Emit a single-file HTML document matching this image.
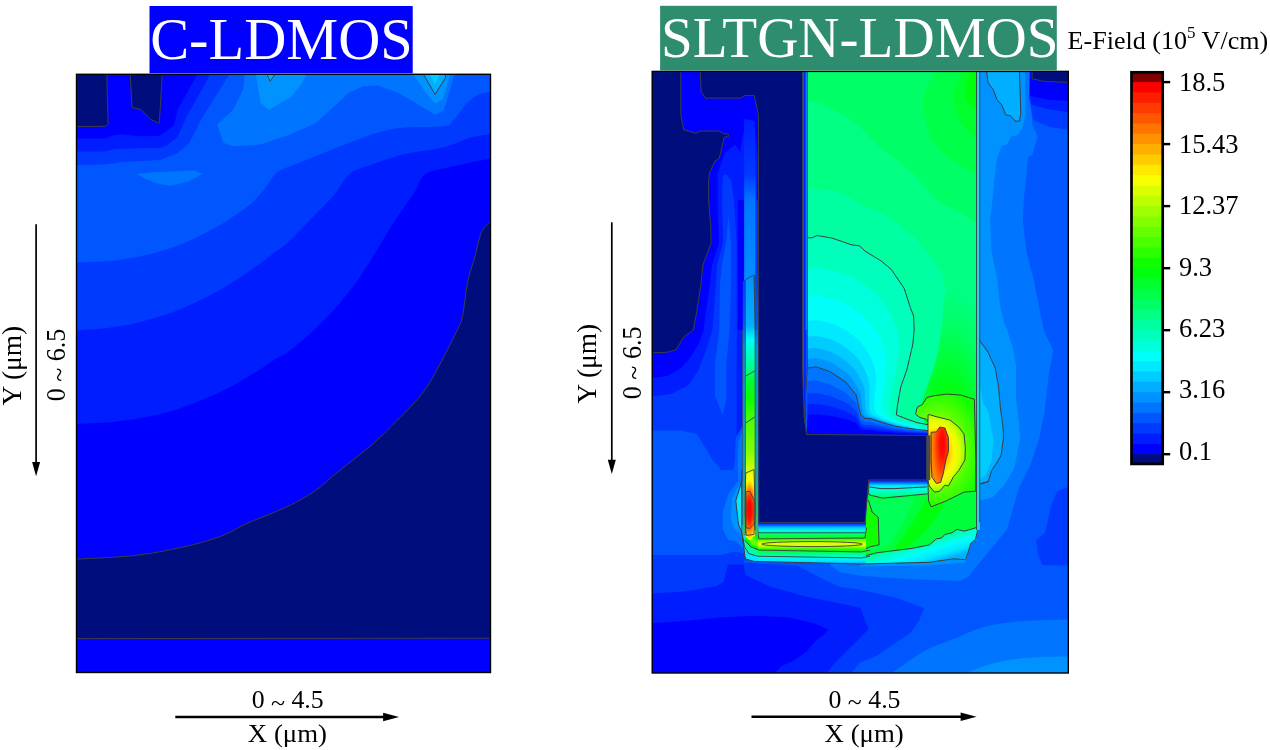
<!DOCTYPE html>
<html lang="en">
<head>
<meta charset="utf-8">
<title>E-Field distribution: C-LDMOS vs SLTGN-LDMOS</title>
<style>
html,body{margin:0;padding:0;background:#fff;}
body{width:1270px;height:750px;overflow:hidden;font-family:"Liberation Serif","Times New Roman",serif;}
svg{display:block;}
</style>
</head>
<body>
<svg width="1270" height="750" viewBox="0 0 1270 750" font-family="'Liberation Serif', 'Times New Roman', serif">
<defs>
<clipPath id="clipL"><rect x="76.5" y="74.3" width="414" height="598.2"/></clipPath>
<clipPath id="clipR"><rect x="652.2" y="71.4" width="416.1" height="601.6"/></clipPath>
<clipPath id="clipG"><path d="M806.8 69.4 L976.5 69.4 L976.5 523 L979.6 522.4 L975.3 539.7 L970.9 543.2 L965.7 559.7 L953.6 558.8 L929.3 562.3 L860 564 L866 522.4 L868.7 479.9 L926.7 479.9 L926.7 435.4 L806.8 434.5Z"/></clipPath>
<radialGradient id="halo" gradientUnits="userSpaceOnUse" cx="0" cy="0" r="1" gradientTransform="translate(948 440) scale(62 150)"><stop offset="0.000" stop-color="rgb(44,255,0)"/><stop offset="0.200" stop-color="rgb(15,255,0)"/><stop offset="0.340" stop-color="rgb(0,255,15)"/><stop offset="0.480" stop-color="rgb(0,255,44)"/><stop offset="0.620" stop-color="rgb(0,255,73)"/><stop offset="0.780" stop-color="rgb(0,255,102)"/><stop offset="1.000" stop-color="rgb(0,255,131)"/></radialGradient>
<linearGradient id="gUA" gradientUnits="userSpaceOnUse" x1="0" y1="479.9" x2="0" y2="499"><stop offset="0.000" stop-color="rgb(0,0,255)"/><stop offset="0.120" stop-color="rgb(0,87,255)"/><stop offset="0.300" stop-color="rgb(0,233,255)"/><stop offset="0.500" stop-color="rgb(0,255,219)"/><stop offset="0.750" stop-color="rgb(0,255,160)"/><stop offset="1.000" stop-color="rgb(0,255,73)"/></linearGradient>
<linearGradient id="gLB" gradientUnits="userSpaceOnUse" x1="930" y1="535" x2="938" y2="562"><stop offset="0.000" stop-color="rgb(0,255,131)"/><stop offset="0.250" stop-color="rgb(0,255,189)"/><stop offset="0.500" stop-color="rgb(0,255,248)"/><stop offset="0.750" stop-color="rgb(0,233,255)"/><stop offset="1.000" stop-color="rgb(0,175,255)"/></linearGradient>
<radialGradient id="hs3" gradientUnits="userSpaceOnUse" cx="0" cy="0" r="1" gradientTransform="translate(938 450) scale(46 64)"><stop offset="0.000" stop-color="rgb(189,255,0)"/><stop offset="0.450" stop-color="rgb(131,255,0)"/><stop offset="0.700" stop-color="rgb(73,255,0)"/><stop offset="1.000" stop-color="rgb(15,255,0)"/></radialGradient>
<radialGradient id="hs4" gradientUnits="userSpaceOnUse" cx="0" cy="0" r="1" gradientTransform="translate(936 452) scale(30 42)"><stop offset="0.000" stop-color="rgb(255,117,0)"/><stop offset="0.300" stop-color="rgb(255,146,0)"/><stop offset="0.450" stop-color="rgb(255,204,0)"/><stop offset="0.600" stop-color="rgb(255,248,0)"/><stop offset="0.780" stop-color="rgb(219,255,0)"/><stop offset="1.000" stop-color="rgb(131,255,0)"/></radialGradient>
<radialGradient id="hs5" gradientUnits="userSpaceOnUse" cx="0" cy="0" r="1" gradientTransform="translate(942.3 445) scale(10 42)"><stop offset="0.000" stop-color="rgb(255,0,0)"/><stop offset="0.250" stop-color="rgb(255,12,0)"/><stop offset="0.550" stop-color="rgb(255,58,0)"/><stop offset="0.800" stop-color="rgb(255,102,0)"/><stop offset="1.000" stop-color="rgb(255,131,0)"/></radialGradient>
<linearGradient id="gBS" gradientUnits="userSpaceOnUse" x1="0" y1="522.4" x2="0" y2="564"><stop offset="0.000" stop-color="rgb(0,0,255)"/><stop offset="0.060" stop-color="rgb(0,87,255)"/><stop offset="0.130" stop-color="rgb(0,204,255)"/><stop offset="0.200" stop-color="rgb(0,255,219)"/><stop offset="0.280" stop-color="rgb(0,255,131)"/><stop offset="0.380" stop-color="rgb(15,255,0)"/><stop offset="0.460" stop-color="rgb(160,255,0)"/><stop offset="0.520" stop-color="rgb(248,255,0)"/><stop offset="0.580" stop-color="rgb(160,255,0)"/><stop offset="0.660" stop-color="rgb(15,255,0)"/><stop offset="0.750" stop-color="rgb(0,255,131)"/><stop offset="0.830" stop-color="rgb(0,255,219)"/><stop offset="0.920" stop-color="rgb(0,233,255)"/><stop offset="1.000" stop-color="rgb(0,175,255)"/></linearGradient>
<linearGradient id="gSL" gradientUnits="userSpaceOnUse" x1="0" y1="115" x2="0" y2="562"><stop offset="0.000" stop-color="rgb(0,29,255)"/><stop offset="0.134" stop-color="rgb(0,58,255)"/><stop offset="0.190" stop-color="rgb(0,117,255)"/><stop offset="0.358" stop-color="rgb(0,146,255)"/><stop offset="0.470" stop-color="rgb(0,175,255)"/><stop offset="0.503" stop-color="rgb(0,255,248)"/><stop offset="0.539" stop-color="rgb(0,255,189)"/><stop offset="0.570" stop-color="rgb(0,255,131)"/><stop offset="0.597" stop-color="rgb(0,255,44)"/><stop offset="0.635" stop-color="rgb(15,255,0)"/><stop offset="0.682" stop-color="rgb(73,255,0)"/><stop offset="0.752" stop-color="rgb(131,255,0)"/><stop offset="0.785" stop-color="rgb(189,255,0)"/><stop offset="0.808" stop-color="rgb(248,255,0)"/><stop offset="0.951" stop-color="rgb(248,255,0)"/><stop offset="0.960" stop-color="rgb(15,255,0)"/><stop offset="0.971" stop-color="rgb(0,255,131)"/><stop offset="0.984" stop-color="rgb(0,255,248)"/><stop offset="0.996" stop-color="rgb(0,175,255)"/></linearGradient>
<linearGradient id="gSLu" gradientUnits="userSpaceOnUse" x1="0" y1="115" x2="0" y2="285"><stop offset="0.000" stop-color="rgb(0,29,255)"/><stop offset="0.350" stop-color="rgb(0,58,255)"/><stop offset="0.500" stop-color="rgb(0,117,255)"/><stop offset="1.000" stop-color="rgb(0,146,255)"/></linearGradient>
<linearGradient id="gRim" gradientUnits="userSpaceOnUse" x1="0" y1="275" x2="0" y2="562"><stop offset="0.000" stop-color="rgb(0,60,235)"/><stop offset="0.170" stop-color="rgb(0,90,235)"/><stop offset="0.250" stop-color="rgb(0,150,200)"/><stop offset="0.700" stop-color="rgb(20,170,170)"/><stop offset="0.900" stop-color="rgb(60,190,90)"/><stop offset="1.000" stop-color="rgb(0,150,200)"/></linearGradient>
<radialGradient id="rsL" gradientUnits="userSpaceOnUse" cx="0" cy="0" r="1" gradientTransform="translate(749.4 510) scale(7.5 30)"><stop offset="0.000" stop-color="rgb(255,0,0)"/><stop offset="0.300" stop-color="rgb(255,12,0)"/><stop offset="0.500" stop-color="rgb(255,58,0)"/><stop offset="0.720" stop-color="rgb(255,146,0)"/><stop offset="1.000" stop-color="rgb(248,255,0)"/></radialGradient>
<clipPath id="clipSl"><rect x="745.6" y="470" width="9.3" height="70"/></clipPath>
<linearGradient id="gS1" gradientUnits="userSpaceOnUse" x1="804.4" y1="0" x2="807.2" y2="0"><stop offset="0.000" stop-color="rgb(0,0,255)"/><stop offset="0.500" stop-color="rgb(0,87,255)"/><stop offset="1.000" stop-color="rgb(0,204,255)"/></linearGradient>
<linearGradient id="gS1b" gradientUnits="userSpaceOnUse" x1="804.4" y1="0" x2="807.2" y2="0"><stop offset="0.000" stop-color="rgb(0,0,255)"/><stop offset="1.000" stop-color="rgb(0,117,255)"/></linearGradient>
</defs>
<g clip-path="url(#clipL)">
<rect x="76.5" y="74.3" width="414" height="598.2" fill="rgb(0,0,255)" />
<path d="M74 424 C81.8 423.5 104.7 423.3 121 421.1 C137.3 418.9 155.6 415.7 172 410.9 C188.4 406.1 206 398.4 219.6 392.2 C233.2 386 244.4 378.9 253.5 373.5 C262.6 368.1 267.7 363.8 273.9 359.9 C280.1 355.9 282.4 356.6 290.9 349.8 C299.4 343 313.6 331.1 324.9 319.2 C336.2 307.3 347.6 294.3 358.9 278.4 C370.2 262.5 383.7 238.2 392.9 224 C402.1 209.8 408.6 201.3 414 193 C419.4 184.7 419.1 178.5 425.6 174 C432.2 169.5 442.1 168.9 453.3 166.2 C464.5 163.5 486.4 159.4 493 158 L492.5 72.3 L74.5 72.3Z" fill="rgb(0,29,255)"/>
<path d="M74 330.6 C81.8 329.8 104.7 329 121 326 C137.3 323 156.1 318.1 172 312.4 C187.9 306.7 202.6 299.4 216.2 292 C229.8 284.6 243.9 274.7 253.5 268.2 C263.1 261.7 268.2 257.1 273.9 252.9 C279.6 248.7 281.8 247.8 287.5 242.7 C293.2 237.6 300.1 230.2 307.9 222.3 C315.6 214.4 327.1 203.1 334 195 C340.9 186.9 343.3 178.9 349.3 174 C355.3 169.1 361.4 168.5 370.1 165.3 C378.8 162.1 388.9 157.9 401.3 154.9 C413.7 151.9 433.1 150 444.6 147.1 C456.2 144.2 462.5 139.8 470.6 137.6 C478.7 135.4 489.3 134.4 493 133.8 L492.5 72.3 L74.5 72.3Z" fill="rgb(0,58,255)"/>
<path d="M74 262.5 C81.8 262 104.7 262.1 121 259.7 C137.3 257.2 156.7 252.9 172 247.8 C187.3 242.7 200.3 235.9 212.8 229.1 C225.3 222.3 238.6 213.2 246.8 207 C255 200.8 257.4 197.3 262 192 C266.6 186.7 271.5 178.6 274.5 175 C277.5 171.4 274.8 173 280 170.5 C285.2 168 294.4 164.7 306 160.1 C317.6 155.5 336.3 147.7 349.3 142.8 C362.3 137.9 373.9 133.3 384 130.7 C394.1 128.1 399.9 127.9 410 127.2 C420.1 126.5 437.4 127.5 444.6 126.3 C451.8 125.1 449.5 124.2 453.3 120.3 C457.1 116.4 462.9 107.2 467.2 102.9 C471.5 98.6 475 96.2 479.3 94.3 C483.6 92.4 490.7 91.8 493 91.3 L492.5 72.3 L74.5 72.3Z" fill="rgb(0,87,255)"/>
<path d="M74 165 L104.7 164.5 L122 161.9 L160.1 160.1 L177.5 153.2 L189.6 142.8 L201.7 118.5 L229.4 74.3 L231 72 L74.5 72.3Z" fill="rgb(0,58,255)"/>
<path d="M74 151.5 L104.7 151.5 L115 148.9 L139.3 148.3 L160.1 148 L167 145.4 L177.5 136.7 L187.9 114.2 L210.4 74.3 L212 72 L74.5 72.3Z" fill="rgb(0,29,255)"/>
<path d="M74 138.5 L104.7 138.5 L115 135 L122 134.5 L139.3 136.2 L159.3 135.9 L174 125.5 L177.5 109.9 L197.4 74.3 L199 72 L74.5 72.3Z" fill="rgb(0,0,255)"/>
<path d="M74 72 L106.7 72 L108.1 123.7 L105.5 126.3 L74 126.7Z" fill="rgb(0,14,125)" stroke="#3c3c46" stroke-width="1" stroke-linejoin="round" />
<path d="M130.1 72 L132 107.3 L140.7 109.5 L150.6 119.4 L159.3 123.4 L162.4 72Z" fill="rgb(0,14,125)" stroke="#3c3c46" stroke-width="1" stroke-linejoin="round" />
<path d="M245 72 L243.3 89.1 L232.9 109.9 L217.3 124.6 L223.4 142.8 L232.9 146.3 L260.6 144.5 L278 138.5 L288.7 135 L314.7 123.7 L330.3 109.9 L349.3 92.5 L363.2 86.5 L377 85.6 L397.9 92.5 L418.6 104.7 L435.1 114.7 L443.8 110.7 L449 92.5 L455 72Z" fill="rgb(0,117,255)" />
<path d="M255.4 72 L260.6 102.9 L269.3 109.9 L280 102.9 L290.4 97.7 L299 87.3 L308.6 72Z" fill="rgb(0,146,255)" />
<path d="M265.9 72 L270.2 81.3 L276.3 72Z" fill="rgb(0,175,255)" stroke="#3c3c46" stroke-width="1" stroke-linejoin="round" />
<path d="M411.7 72 L425.6 92.5 L435.1 103.8 L442.9 99.5 L447.2 85.6 L450.7 72Z" fill="rgb(0,146,255)" />
<path d="M422.1 72 L435.1 94.3 L445.5 77.8 L445.5 72Z" fill="rgb(0,175,255)" stroke="#3c3c46" stroke-width="1" stroke-linejoin="round" />
<path d="M428.2 72 L435.1 83.9 L441.2 72Z" fill="rgb(0,204,255)" />
<path d="M136.7 174 L153.2 172.3 L194.8 170.5 L202.6 174 L187.9 181.8 L170.5 185.8 L156.7 183.5 L144.5 178.3Z" fill="rgb(0,117,255)" />
<path d="M493 222 C492.3 222.2 490.8 221.2 488.8 223 C486.9 224.8 483.7 226.7 481.3 232.5 C478.9 238.3 476.8 249.8 474.5 258 C472.2 266.2 469.7 272.2 467.7 281.8 C465.7 291.4 464.3 307.9 462.6 315.8 C460.9 323.7 460.6 322.6 457.5 329.4 C454.4 336.2 449 347 443.9 356.6 C438.8 366.2 432.6 378.6 426.9 387.1 C421.2 395.6 415.6 401.3 409.9 407.5 C404.2 413.7 396.6 420.8 392.9 424.5 C389.2 428.2 391.8 426.2 387.8 430 C383.8 433.8 377.9 439.6 369.1 447 C360.3 454.4 344.2 466.8 335.1 474.2 C326 481.6 322.6 485.8 314.7 491.2 C306.8 496.6 298.8 501.1 287.5 506.5 C276.2 511.9 257.6 518.7 246.8 523.5 C236.1 528.3 232.6 531.7 223 535.4 C213.4 539.1 203.2 542.3 189 545.6 C174.8 548.9 157.2 552.8 138 555.1 C118.8 557.4 84.7 558.6 74 559.3 L74 638.6 L493 638.2Z" fill="rgb(0,14,125)"/>
<path d="M493 222 C492.3 222.2 490.8 221.2 488.8 223 C486.9 224.8 483.7 226.7 481.3 232.5 C478.9 238.3 476.8 249.8 474.5 258 C472.2 266.2 469.7 272.2 467.7 281.8 C465.7 291.4 464.3 307.9 462.6 315.8 C460.9 323.7 460.6 322.6 457.5 329.4 C454.4 336.2 449 347 443.9 356.6 C438.8 366.2 432.6 378.6 426.9 387.1 C421.2 395.6 415.6 401.3 409.9 407.5 C404.2 413.7 396.6 420.8 392.9 424.5 C389.2 428.2 391.8 426.2 387.8 430 C383.8 433.8 377.9 439.6 369.1 447 C360.3 454.4 344.2 466.8 335.1 474.2 C326 481.6 322.6 485.8 314.7 491.2 C306.8 496.6 298.8 501.1 287.5 506.5 C276.2 511.9 257.6 518.7 246.8 523.5 C236.1 528.3 232.6 531.7 223 535.4 C213.4 539.1 203.2 542.3 189 545.6 C174.8 548.9 157.2 552.8 138 555.1 C118.8 557.4 84.7 558.6 74 559.3" fill="none" stroke="#3c3c46" stroke-width="1"/>
<path d="M74 638.6 L493 638.2" fill="none" stroke="#3c3c46" stroke-width="1" stroke-linejoin="round"/>
</g>
<rect x="76.5" y="74.3" width="414" height="598.2" fill="none" stroke="#000" stroke-width="1.4"/>
<g clip-path="url(#clipR)">
<rect x="652.2" y="71.4" width="416.1" height="601.6" fill="rgb(0,87,255)" />
<path d="M1030 69.4 L1029 96 L1031.6 111.6 L1032.4 125.5 L1037.6 135.9 L1032.4 154.9 L1028.1 156.7 L1026.4 174 L1023.8 200 L1022.9 220.8 L1026.4 252 L1033.3 278 L1038.5 304 L1043.7 330 L1053.2 350.8 L1048.9 373.3 L1045 409.3 L1039.2 438.7 L1030.4 465.1 L1018.7 488.6 L1012.8 509.1 L1007 529.6 L992.3 547.3 L977.6 564.9 L968.8 576.6 L960 581 L912 579.3 L860 575.8 L840.6 572.3 L830.2 565.4 L830 520 L976.5 520 L976.5 69.4Z" fill="rgb(0,117,255)" />
<path d="M1025 69.4 L1025.5 115.1 L1022.9 127.2 L1017.7 135 L1010.8 136.7 L1007.3 144.5 L1001.2 146.3 L996.9 160.1 L994.3 180.9 L992.5 200 L990 220.8 L991.7 252 L996.9 278 L1000.4 307.5 L1003.8 321.3 L1007.3 330 L1012.5 347.3 L1016 364.7 L1016 399.3 L1018.7 420 L1020.2 438.7 L1014.3 468 L1004 485.6 L992.3 497.4 L980.5 500.3 L976.5 500.3 L976.5 69.4Z" fill="rgb(0,146,255)" />
<path d="M860 563 L860 566.5 L930 565.5 L965 562.5 L968 556 L940 556Z" fill="rgb(0,146,255)" />
<path d="M1029 96 L1031.6 111.6 L1033.3 120.3 L1050.6 127.2 L1070.3 129.8 L1070.3 69.4 L1030 69.4Z" fill="rgb(0,58,255)" />
<path d="M1029.5 96 L1031.6 104.7 L1047.2 109 L1070.3 112.5 L1070.3 69.4 L1030 69.4Z" fill="rgb(0,29,255)" />
<path d="M1029.7 94 L1030.7 96 L1047.2 99.5 L1070.3 101.2 L1070.3 69.4 L1030 69.4Z" fill="rgb(0,0,255)" />
<path d="M1032.1 69.4 L1032.1 78.7 L1043.7 81.3 L1070.3 82.5 L1070.3 69.4Z" fill="rgb(0,14,125)" stroke="#3c3c46" stroke-width="1" stroke-linejoin="round" />
<path d="M1070.3 485.6 L1056.8 491.5 L1051 506.2 L1045.1 532.6 L1036.3 539.9 L1037.8 553.1 L1042.2 564.9 L1070.3 565.4Z" fill="rgb(0,58,255)" />
<path d="M986.2 69.4 L988.2 83 L993.4 89.9 L996.9 99.5 L1002.1 105.5 L1005.6 114.7 L1010.8 115.9 L1015.1 121.1 L1019.4 121.1 L1020.8 113.3 L1019.4 69.4Z" fill="rgb(0,175,255)" stroke="#3c3c46" stroke-width="1" stroke-linejoin="round" />
<path d="M978 338 L979.6 340.4 L988.2 352.5 L995.2 368.1 L998.6 387.2 L1000.4 408 L1003 427.1 L1003.5 437.5 L1001.2 454.8 L998.6 460 L991.7 470.4 L988.2 481.7 L978 484.3Z" fill="rgb(0,175,255)" stroke="#3c3c46" stroke-width="1" stroke-linejoin="round" />
<path d="M978 380 L979.6 382 L983.1 402.8 L988.2 411.5 L991.7 430.5 L993.4 440.9 L991.7 460 L986 475 L978 480Z" fill="rgb(0,204,255)" />
<path d="M650.2 555 L721 555 L733.2 551.5 L743.6 552.7 L745 559.7 L743.6 562.8 L797.3 565.4 L823.3 579.3 L840.6 587.1 L860 589.7 L894.7 597.5 L924.1 607.9 L918.9 620.9 L910.3 633 L894.7 643.4 L877.3 655.5 L860 662.5 L849.3 675 L650.2 675Z" fill="rgb(0,58,255)" />
<path d="M650.2 593.5 L684.7 591.4 L715.9 586.2 L723.7 581.9 L728 564.5 L743.6 564.5 L745.3 574.9 L771.3 587.1 L806 596.6 L840.6 603.5 L860.6 607.9 L868.4 629.5 L858 639.9 L849.3 648.6 L840.6 657.3 L833.7 664.2 L825 675 L650.2 675Z" fill="rgb(0,29,255)" />
<path d="M650.2 623.5 L684.7 620.9 L719.3 617.4 L754 615.7 L788.6 617.4 L814.6 623.5 L828.5 629.5 L823.3 635.6 L816.4 639.9 L806 652.1 L793.8 660.7 L781.7 665.9 L773.1 675 L650.2 675Z" fill="rgb(0,0,255)" />
<path d="M889 675 C892.8 672.3 905.3 663.4 912 659 C918.7 654.6 922.1 652.1 929.3 648.6 C936.5 645.1 946.6 641.7 955.3 638.2 C964 634.7 972.6 630.4 981.3 627.8 C990 625.2 998.6 623.8 1007.3 622.6 C1016 621.4 1022.8 621 1033.3 620.5 C1043.8 620 1064.1 619.7 1070.3 619.5 L1070.3 675Z" fill="rgb(0,117,255)"/>
<path d="M960 675 C965 673.2 980.7 666.9 990 664.2 C999.3 661.5 1007.3 660.2 1016 659 C1024.7 657.8 1033 657.3 1042 656.9 C1051 656.5 1065.6 656.5 1070.3 656.4 L1070.3 675Z" fill="rgb(0,146,255)"/>
<rect x="650.2" y="69.4" width="109.8" height="362.6" fill="rgb(0,0,255)" />
<path d="M650.2 378.5 L667.3 375.9 L681.2 368.1 L691.6 356 L700.3 340.4 L703.7 330 L706 311 L710 283 L712 265 L719 243 L717.6 200 L717.6 174 L724.5 153.2 L734.9 144.5 L740.1 151.5 L744.5 127.2 L746.2 119.4 L754 121.1 L756.1 139.3 L757.5 156.7 L757.5 470 L650.2 470Z" fill="rgb(0,29,255)" />
<path d="M650.2 396.7 L670.8 394.1 L688.1 385.5 L698.5 369.9 L707.2 347.3 L712.4 330 L714 311 L716 283 L717 265 L723 243 L722 200 L722.8 175.7 L726.3 174 L731.5 180.9 L734 200 L736.7 243 L736.7 470 L650.2 470Z" fill="rgb(0,58,255)" />
<path d="M726 243 L722 265 L720 283 L719.3 330 L715 364.7 L715 395.9 L722.8 414.9 L726.3 399.3 L726.3 364.7 L729.7 330 L731 283 L731 243 L728.5 215Z" fill="rgb(0,87,255)" />
<path d="M650.2 430.5 L681.2 430.5 L696.8 434 L705.5 447.9 L712.4 460 L719.3 467 L724.5 477.3 L728.9 478.2 L733.2 470.4 L734.9 460 L735.8 437.5 L741.9 427.1 L745 427 L745 552.7 L733.2 551.5 L721 555 L650.2 555Z" fill="rgb(0,87,255)" />
<rect x="737.8" y="200" width="6.2" height="130" fill="rgb(0,0,255)" />
<rect x="740.5" y="330" width="3.5" height="70" fill="rgb(0,29,255)" />
<path d="M742.5 430 L738.5 442 L737.5 465 L738.2 481 L745 481 L745 430Z" fill="rgb(0,117,255)" />
<path d="M650.2 69.4 L680.8 69.4 L680.8 115.1 L683.8 129.8 L695.9 133.3 L700.3 131 L719.3 131 L723.7 133.8 L728.3 134.1 L728.3 136.7 L724.2 137.2 L719.3 158.4 L715 161 L709.8 172.3 L708.6 180.9 L708.6 200 L710.7 226 L711 243.3 L702.9 265 L701.1 283.2 L696.8 310.9 L693.3 330 L683.8 336.9 L676 349.9 L667.3 352.2 L650.2 352.9Z" fill="rgb(0,14,125)" stroke="#3c3c46" stroke-width="1" stroke-linejoin="round" />
<path d="M741.9 480 L736.7 482.5 L728 494.7 L722.8 512 L722.8 529.3 L728 539.7 L736.7 541.5 L741.9 546.7 L746 560 L746 480Z" fill="rgb(0,117,255)" />
<path d="M742 484 L738.4 486 L732.3 498.1 L730.6 518.9 L734.9 529.3 L740.1 532.8 L745 550 L745 484Z" fill="rgb(0,146,255)" />
<path d="M741.9 480.8 L735.8 500.7 L738.4 524.1 L741.9 532.8 L745.3 558.8 L748 560 L748 480.8Z" fill="rgb(0,233,255)" stroke="#3c3c46" stroke-width="1" stroke-linejoin="round" />
<g clip-path="url(#clipG)">
<rect x="800" y="69.4" width="180" height="500.6" fill="rgb(0,255,102)" />
<path d="M936.3 69.4 C934.3 73.8 925.8 87.2 924.1 96 C922.4 104.8 923.9 113.6 925.9 122 C927.9 130.4 931.1 139.4 936.3 146.3 C941.5 153.2 950.1 158.9 957.1 163.6 C964.1 168.3 974.5 172.7 978 174.5 L978 69.4Z" fill="rgb(0,255,73)"/>
<path d="M964 69.4 C962.3 73.2 954.8 85.2 953.6 92.5 C952.5 99.8 955.1 107.2 957.1 113.3 C959.1 119.4 962.2 124.5 965.7 128.9 C969.2 133.3 976 138.2 978 140 L978 69.4Z" fill="rgb(0,255,44)"/>
<path d="M970.9 69.4 C970 72.4 966.3 82 965.7 87.3 C965.1 92.6 965.5 97.2 967.5 101.2 C969.5 105.2 976.2 109.4 978 111 L978 69.4Z" fill="rgb(0,255,15)"/>
<path d="M805 103 C806.9 102.8 810.5 100.4 816.4 102.1 C822.3 103.8 833.7 109.4 840.6 113.3 C847.5 117.2 851.3 119.7 858 125.5 C864.7 131.3 871.8 140.2 880.8 148 C889.8 155.8 902.8 163.6 912 172.3 C921.2 181 928.8 193.7 936.3 200 C943.8 206.3 950.1 206.2 957.1 210.4 C964.1 214.6 974.5 222.6 978 225 L978 440 L805 440Z" fill="rgb(0,255,131)"/>
<ellipse cx="948" cy="440" rx="62" ry="150" fill="url(#halo)"/>
<rect x="860" y="480" width="120" height="90" fill="rgb(0,255,58)" />
<path d="M926 500 L946 500.7 L940 512 L925 532 L906 549 L893 551 L910 527 L920 510Z" fill="rgb(0,255,15)" />
<path d="M805 189.8 C806.9 189.6 810.5 188.2 816.4 188.7 C822.3 189.2 833.3 190.5 840.6 193 C847.9 195.5 852.4 199.7 860 203.5 C867.6 207.3 878.5 211.3 886 215.6 C893.5 219.9 898.5 223.7 905.1 229.5 C911.8 235.3 920.1 243.7 925.9 250.3 C931.7 256.9 936.5 263.2 939.7 269.3 C942.9 275.4 944.3 280.3 944.9 286.7 C945.5 293.1 943.8 300.3 943.2 307.5 C942.6 314.7 942.7 321.2 941.5 330 C940.3 338.8 938.6 350 936 360 C933.4 370 928.5 381.7 926 390 C923.5 398.3 920.8 404.2 921 410 C921.2 415.8 926 422.5 927 425 L927 440 L805 440Z" fill="rgb(0,255,160)"/>
<path d="M805 237.8 L806.8 237.8 L817.3 235.5 L827.7 237.4 L841.2 241.2 L857.9 245.7 L872.6 255.7 L886.6 265.5 L897.8 278.9 L906.2 294.6 L911.8 311.3 L914.1 329.2 L911.9 348.3 L907.8 365.8 L902.9 381 L900 391 L898.5 399.4 L897.2 407.1 L896.7 412.4 L900.6 416.6 L906.5 418.9 L913.7 421.5 L921.3 423.5 L927.7 424.6 L928 436 L805 436Z" fill="rgb(0,255,189)"/>
<path d="M805 269.3 L806.8 269.3 L815.7 267.5 L824.4 268.8 L835.8 271.8 L849.9 275.7 L862.4 283.8 L874.2 292 L883.9 303 L891.4 315.6 L896.6 329.4 L899.2 344.1 L898.4 359.6 L895.6 374.3 L892.2 387.2 L890.3 395.8 L889.3 403.2 L889.2 409.7 L890.7 414 L895.2 417.7 L901 419.9 L908 422.3 L915.1 424.2 L921.4 425.3 L928 436 L805 436Z" fill="rgb(0,255,219)"/>
<path d="M805 297 L806.8 297 L814.2 295.5 L821.5 296.3 L831.1 298.7 L842.8 302 L853.4 308.4 L863.3 315.2 L871.7 324.1 L878.5 334.1 L883.3 345.3 L886.2 357.1 L886.6 369.5 L885 381.8 L882.8 392.6 L881.7 400 L881.3 406.4 L882.2 412 L885.4 415.4 L890.5 418.7 L896.2 420.7 L903 423 L909.7 424.8 L915.8 425.8 L928 436 L805 436Z" fill="rgb(0,255,248)"/>
<path d="M805 321.3 L806.8 321.3 L812.9 320.2 L819 320.6 L826.9 322.3 L836.6 325.2 L845.5 330.1 L853.8 335.7 L861 342.7 L867.1 350.4 L871.6 359.3 L874.7 368.6 L876.2 378.3 L875.6 388.4 L874.6 397.4 L874.2 403.6 L874.2 409.3 L876.1 414 L880.8 416.7 L886.3 419.6 L891.9 421.5 L898.5 423.6 L904.9 425.3 L910.9 426.3 L928 436 L805 436Z" fill="rgb(0,233,255)"/>
<path d="M805 337 L806.8 337 L812.1 336.1 L817.3 336.2 L824.3 337.5 L832.6 340.1 L840.5 344 L847.7 348.9 L854.1 354.6 L859.8 360.8 L864.1 368.2 L867.4 375.9 L869.5 383.9 L869.5 392.6 L869.3 400.4 L869.3 406 L869.6 411.1 L872.1 415.3 L877.8 417.5 L883.6 420.2 L889.2 422 L895.7 424 L901.9 425.7 L907.7 426.6 L928 436 L805 436Z" fill="rgb(0,204,255)"/>
<path d="M805 348.9 L806.8 348.9 L811.4 348.2 L816.1 348.1 L822.2 349.2 L829.6 351.5 L836.6 354.7 L843 359 L848.8 363.8 L854.2 368.8 L858.3 375.1 L861.7 381.6 L864.4 388.2 L864.9 395.8 L865.2 402.8 L865.6 407.8 L866.2 412.5 L869.1 416.3 L875.5 418.1 L881.6 420.6 L887.1 422.3 L893.5 424.3 L899.5 425.9 L905.3 426.8 L928 436 L805 436Z" fill="rgb(0,175,255)"/>
<path d="M805 359 L806.8 359 L810.9 358.4 L815 358.1 L820.5 358.9 L827 361 L833.3 363.6 L839 367.4 L844.4 371.4 L849.5 375.5 L853.5 380.9 L857 386.3 L860.1 391.8 L861 398.5 L861.8 404.7 L862.5 409.3 L863.2 413.7 L866.5 417.1 L873.6 418.6 L879.9 421 L885.4 422.6 L891.7 424.6 L897.6 426.2 L903.3 427 L928 436 L805 436Z" fill="rgb(0,146,255)"/>
<path d="M805 368.1 L806.8 368.1 L816.4 366.9 L830.2 371.6 L845.8 382 L856.2 395 L860.6 414.9 L864.9 418.4 L870 418.4 L877.3 421 L894.7 426.2 L912 428.8 L928 430.6 L928 436 L805 436Z" fill="rgb(0,117,255)"/>
<path d="M805 381.6 L806.8 381.6 L816.4 380.6 L830.2 384.4 L845.8 392.7 L856.2 403.1 L860.6 419 L864.9 421.8 L870 421.8 L877.3 423.9 L894.7 428.1 L912 430.2 L928 431.6 L928 436 L805 436Z" fill="rgb(0,87,255)"/>
<path d="M805 393.8 L806.8 393.8 L816.4 393 L830.2 395.9 L845.8 402.4 L856.2 410.4 L860.6 422.8 L864.9 424.9 L870 424.9 L877.3 426.5 L894.7 429.8 L912 431.4 L928 432.5 L928 436 L805 436Z" fill="rgb(0,58,255)"/>
<path d="M805 404.6 L806.8 404.6 L816.4 404 L830.2 406.2 L845.8 410.9 L856.2 416.9 L860.6 426.1 L864.9 427.7 L870 427.7 L877.3 428.9 L894.7 431.3 L912 432.5 L928 433.3 L928 436 L805 436Z" fill="rgb(0,29,255)"/>
<path d="M805 414.7 L806.8 414.7 L816.4 414.3 L830.2 415.8 L845.8 419 L856.2 423 L860.6 429.2 L864.9 430.3 L870 430.3 L877.3 431.1 L894.7 432.7 L912 433.5 L928 434.1 L928 436 L805 436Z" fill="rgb(0,0,255)"/>
<path d="M806.8 237.8 L812 237.8 L817.2 235.5 L832 238.1 L842.4 241.6 L851 244.7 L859.7 245.9 L864.9 251.1 L880.8 260.7 L891.2 269.3 L904.2 288.4 L910.3 307.5 L913.7 316.1 L914.1 330 L912.9 343.9 L906.8 369.9 L900.7 387.2 L897.3 406.3 L896.4 414.9 L905.1 418.4 L917.2 422.7 L928 424.7" fill="none" stroke="#3c3c46" stroke-width="1" stroke-linejoin="round"/>
<path d="M806.8 368.1 L816.4 366.9 L830.2 371.6 L845.8 382 L856.2 395 L860.6 414.9 L864.9 418.4 L870 418.4 L877.3 421 L894.7 426.2 L912 428.8 L928 430.6" fill="none" stroke="#3c3c46" stroke-width="1" stroke-linejoin="round"/>
<path d="M868.7 479.9 L928 479.9 L928 494 L882.5 498.5 L868.7 495Z" fill="url(#gUA)" />
<path d="M927.9 493.8 L882.5 498.1 L868.7 494.7 L868.7 479.9" fill="none" stroke="#3c3c46" stroke-width="1" stroke-linejoin="round"/>
<path d="M926.7 486.9 L894.7 488.6 L880.8 488.6 L869.5 486.9" fill="none" stroke="#3c3c46" stroke-width="1" stroke-linejoin="round"/>
<path d="M868.7 498 L885 500 L915 497 L905 520 L890 545 L868 552Z" fill="rgb(0,255,87)" />
<path d="M868.7 500.7 L872.1 512 L878.2 517.2 L879.1 544.9 L870.4 546.7 L860 551 L864 500Z" fill="rgb(15,255,0)" stroke="#3c3c46" stroke-width="1" stroke-linejoin="round" />
<path d="M858 557.6 L877.3 552.7 L912 548.4 L929.3 544.9 L936.3 538.9 L941.5 538 L944.9 534.5 L951.9 532.8 L957.1 529.3 L964 531.1 L970.9 529.3 L978 527 L978 570 L858 570Z" fill="url(#gLB)"/>
<path d="M858 557.6 L877.3 552.7 L912 548.4 L929.3 544.9 L936.3 538.9 L941.5 538 L944.9 534.5 L951.9 532.8 L957.1 529.3 L964 531.1 L970.9 529.3 L978 527" fill="none" stroke="#3c3c46" stroke-width="1" stroke-linejoin="round"/>
<path d="M926.7 397.6 L932.8 395.9 L946.7 394.1 L960.5 395 L974.4 399.3 L975.8 460 L975.8 491.2 L964 492.1 L946.7 500.7 L931.1 506.8 L928.5 500.7 L927.9 480.8 L930 470 L930 425 L926.7 419.3 L919.8 417.5 L915.5 414 L917.2 407.1 L922.4 404.5Z" fill="url(#hs3)" stroke="#3c3c46" stroke-width="1" stroke-linejoin="round" />
<path d="M928 414.9 L929.3 414.6 L936.3 416.7 L950.1 420.1 L958.8 427.1 L964 434 L965.4 447.9 L964.9 460 L958.8 470.4 L953.6 476.5 L948.4 486 L944.9 485.1 L939.7 491.2 L934.5 492.1 L929.3 486 L928 480Z" fill="url(#hs4)" stroke="#3c3c46" stroke-width="1" stroke-linejoin="round" />
<path d="M931.1 432.3 L936.3 431.9 L939.7 427.1 L944.9 427.9 L948.4 437.5 L948.4 451.3 L945.8 460 L943.2 473.9 L940.6 482.5 L936.3 483.4 L931.9 477.3 L931.1 460Z" fill="url(#hs5)" stroke="#3c3c46" stroke-width="1" stroke-linejoin="round" />
</g>
<path d="M757.5 522.4 L866 522.4 L866 564 L757.5 561.6Z" fill="url(#gBS)" />
<path d="M741.9 532.8 L745.3 558.8 L754 561.4 L758 561.6 L758 556.3 L757.5 556.2 L748.8 553.6 L744.5 546.7 L742.7 536.3Z" fill="rgb(0,233,255)" />
<path d="M742.7 536.3 L744.5 546.7 L748.8 553.6 L757.5 556.2 L758 556.3 L758 550.2 L750.5 546.7 L744.5 539.7Z" fill="rgb(0,255,160)" />
<path d="M744.5 539.7 L750.5 546.7 L758 550.2 L758 536 L746 535.5Z" fill="rgb(0,255,15)" />
<path d="M748 538 L752 544.5 L758 546.8 L758 541.2 L754 538Z" fill="rgb(102,255,0)" />
<path d="M741.5 470 L741.9 532.8 L745.3 558.8 L754 561.4 L860 564 L929.3 562.3 L953.6 558.8 L965.7 559.7 L970.9 543.2 L975.3 539.7 L979.6 522.4 L978.7 484.3 L988.2 481.7" fill="none" stroke="#3c3c46" stroke-width="1" stroke-linejoin="round"/>
<path d="M742.7 536.3 L744.5 546.7 L748.8 553.6 L757.5 556.2 L861.4 557.9 L870 556.2" fill="none" stroke="#3c3c46" stroke-width="0.9" stroke-linejoin="round"/>
<path d="M744.5 539.7 L750.5 546.7 L759.2 550.1 L861.4 551.9 L870 550.1" fill="none" stroke="#3c3c46" stroke-width="0.9" stroke-linejoin="round"/>
<path d="M757.5 527.6 L758.8 538.9 L864.9 538 L866.6 527.6" fill="none" stroke="#3c3c46" stroke-width="0.9" stroke-linejoin="round"/>
<path d="M758 532.8 L865.5 532.8" fill="none" stroke="#3c3c46" stroke-width="0.9" stroke-linejoin="round"/>
<ellipse cx="812" cy="544.1" rx="50.3" ry="2.5" fill="rgb(219,255,0)" stroke="#3c3c46" stroke-width="0.9"/>
<path d="M744.2 119 L754.6 121 L755.6 200 L755.6 285 L744.2 285Z" fill="url(#gSLu)" />
<path d="M755.6 200 L757.8 200 L757.8 285 L755.6 285Z" fill="rgb(0,58,255)" />
<path d="M742.8 281 L758.2 275 L758.2 536 L742.8 536Z" fill="url(#gRim)" />
<path d="M745.6 279.7 L754.4 274.9 L754.9 300 L754.9 536.5 L745.6 536.5Z" fill="url(#gSL)" />
<ellipse cx="749.6" cy="510" rx="7.5" ry="30" fill="url(#rsL)" clip-path="url(#clipSl)"/>
<path d="M742.6 330 L742.6 525" fill="none" stroke="#35506a" stroke-width="0.8" stroke-linejoin="round"/>
<path d="M745.4 280 L745.4 535" fill="none" stroke="#35506a" stroke-width="0.8" stroke-linejoin="round"/>
<path d="M755.1 275 L755.1 530" fill="none" stroke="#35506a" stroke-width="0.8" stroke-linejoin="round"/>
<path d="M745.4 279.7 L754 274.9 L755.3 330" fill="none" stroke="#3c3c46" stroke-width="0.9" stroke-linejoin="round"/>
<path d="M745.7 376 L754.7 371" fill="none" stroke="#3c3c46" stroke-width="0.9" stroke-linejoin="round"/>
<path d="M745.7 423 L754.7 417" fill="none" stroke="#3c3c46" stroke-width="0.9" stroke-linejoin="round"/>
<path d="M745.7 473 L754 469.5 L755.2 512 L754 534.5 L746.2 535.4 L745 512 L745.7 473" fill="none" stroke="#3c3c46" stroke-width="0.9" stroke-linejoin="round"/>
<path d="M745.9 492 L749.7 491.2 L754 499.9 L754 524.1 L749.7 528.5 L745.9 527.6 L745.9 492" fill="none" stroke="#3c3c46" stroke-width="0.9" stroke-linejoin="round"/>
<rect x="804.4" y="69.4" width="2.8" height="260.6" fill="url(#gS1)" />
<rect x="804.4" y="330" width="2.8" height="90" fill="url(#gS1b)" />
<rect x="976.3" y="69.4" width="3.5" height="460.6" fill="rgb(40,215,222)" />
<path d="M976.5 69.4 L976.5 530" fill="none" stroke="#3c3c46" stroke-width="0.9" stroke-linejoin="round"/>
<path d="M979.7 69.4 L979.7 522" fill="none" stroke="#3c3c46" stroke-width="0.9" stroke-linejoin="round"/>
<path d="M700.3 69.4 L701.1 91.7 L705.5 98.1 L741 98.1 L745 95.6 L754.3 95.6 L757.1 109 L758.5 115.1 L758.8 522.4 L865 522.4 L868.7 479.9 L926.7 479.9 L926.7 435.4 L806.8 434.5 L804.2 416.7 L802.5 368.1 L802.5 69.4Z" fill="rgb(0,14,125)" stroke="#3c3c46" stroke-width="1" stroke-linejoin="round" />
<rect x="926.7" y="435.4" width="3.6" height="44.8" fill="#4a4a4a" />
<path d="M807.4 71 L807.4 368.1 L804.2 416.7 L806.8 434.5" fill="none" stroke="#3c3c46" stroke-width="0.9" stroke-linejoin="round"/>
</g>
<rect x="652.2" y="71.4" width="416.1" height="601.6" fill="none" stroke="#000" stroke-width="1.4"/>
<rect x="149.5" y="6" width="263.2" height="67.3" fill="rgb(0,0,255)" />
<text x="150.2" y="58.8" font-size="59.5" fill="#fff" textLength="262.5" lengthAdjust="spacingAndGlyphs">C-LDMOS</text>
<rect x="660.1" y="5.8" width="396.7" height="64.8" fill="rgb(45,141,110)" />
<text x="660.9" y="57.3" font-size="56.8" fill="#fff" textLength="397.5" lengthAdjust="spacingAndGlyphs">SLTGN-LDMOS</text>
<rect x="1131.5" y="72.3" width="31.2" height="391.6" fill="rgb(128,0,0)" />
<rect x="1131.5" y="82.1" width="31.2" height="381.8" fill="rgb(255,0,0)" />
<rect x="1131.5" y="92.4" width="31.2" height="371.5" fill="rgb(255,29,0)" />
<rect x="1131.5" y="102.8" width="31.2" height="361.1" fill="rgb(255,58,0)" />
<rect x="1131.5" y="113.1" width="31.2" height="350.8" fill="rgb(255,87,0)" />
<rect x="1131.5" y="123.4" width="31.2" height="340.5" fill="rgb(255,117,0)" />
<rect x="1131.5" y="133.8" width="31.2" height="330.1" fill="rgb(255,146,0)" />
<rect x="1131.5" y="144.1" width="31.2" height="319.8" fill="rgb(255,175,0)" />
<rect x="1131.5" y="154.5" width="31.2" height="309.4" fill="rgb(255,204,0)" />
<rect x="1131.5" y="164.8" width="31.2" height="299.1" fill="rgb(255,233,0)" />
<rect x="1131.5" y="175.1" width="31.2" height="288.8" fill="rgb(248,255,0)" />
<rect x="1131.5" y="185.5" width="31.2" height="278.4" fill="rgb(219,255,0)" />
<rect x="1131.5" y="195.8" width="31.2" height="268.1" fill="rgb(189,255,0)" />
<rect x="1131.5" y="206.1" width="31.2" height="257.8" fill="rgb(160,255,0)" />
<rect x="1131.5" y="216.5" width="31.2" height="247.4" fill="rgb(131,255,0)" />
<rect x="1131.5" y="226.8" width="31.2" height="237.1" fill="rgb(102,255,0)" />
<rect x="1131.5" y="237.1" width="31.2" height="226.8" fill="rgb(73,255,0)" />
<rect x="1131.5" y="247.5" width="31.2" height="216.4" fill="rgb(44,255,0)" />
<rect x="1131.5" y="257.8" width="31.2" height="206.1" fill="rgb(15,255,0)" />
<rect x="1131.5" y="268.1" width="31.2" height="195.8" fill="rgb(0,255,15)" />
<rect x="1131.5" y="278.5" width="31.2" height="185.4" fill="rgb(0,255,44)" />
<rect x="1131.5" y="288.8" width="31.2" height="175.1" fill="rgb(0,255,73)" />
<rect x="1131.5" y="299.2" width="31.2" height="164.7" fill="rgb(0,255,102)" />
<rect x="1131.5" y="309.5" width="31.2" height="154.4" fill="rgb(0,255,131)" />
<rect x="1131.5" y="319.8" width="31.2" height="144.1" fill="rgb(0,255,160)" />
<rect x="1131.5" y="330.2" width="31.2" height="133.7" fill="rgb(0,255,189)" />
<rect x="1131.5" y="340.5" width="31.2" height="123.4" fill="rgb(0,255,219)" />
<rect x="1131.5" y="350.8" width="31.2" height="113.1" fill="rgb(0,255,248)" />
<rect x="1131.5" y="361.2" width="31.2" height="102.7" fill="rgb(0,233,255)" />
<rect x="1131.5" y="371.5" width="31.2" height="92.4" fill="rgb(0,204,255)" />
<rect x="1131.5" y="381.8" width="31.2" height="82.1" fill="rgb(0,175,255)" />
<rect x="1131.5" y="392.2" width="31.2" height="71.7" fill="rgb(0,146,255)" />
<rect x="1131.5" y="402.5" width="31.2" height="61.4" fill="rgb(0,117,255)" />
<rect x="1131.5" y="412.9" width="31.2" height="51" fill="rgb(0,87,255)" />
<rect x="1131.5" y="423.2" width="31.2" height="40.7" fill="rgb(0,58,255)" />
<rect x="1131.5" y="433.5" width="31.2" height="30.4" fill="rgb(0,29,255)" />
<rect x="1131.5" y="443.9" width="31.2" height="20" fill="rgb(0,0,255)" />
<rect x="1131.5" y="454.2" width="31.2" height="9.7" fill="rgb(0,14,125)" />
<rect x="1131.5" y="72.3" width="31.2" height="391.6" fill="none" stroke="#000" stroke-width="2.7"/>
<line x1="1162.7" y1="82.1" x2="1170.2" y2="82.1" stroke="#000" stroke-width="2.4"/>
<text x="1178.9" y="91.4" font-size="26.5" fill="#000">18.5</text>
<line x1="1162.7" y1="144.1" x2="1170.2" y2="144.1" stroke="#000" stroke-width="2.4"/>
<text x="1178.9" y="152.8" font-size="26.5" fill="#000">15.43</text>
<line x1="1162.7" y1="206.1" x2="1170.2" y2="206.1" stroke="#000" stroke-width="2.4"/>
<text x="1178.9" y="214.1" font-size="26.5" fill="#000">12.37</text>
<line x1="1162.7" y1="268.2" x2="1170.2" y2="268.2" stroke="#000" stroke-width="2.4"/>
<text x="1178.9" y="275.5" font-size="26.5" fill="#000">9.3</text>
<line x1="1162.7" y1="330.2" x2="1170.2" y2="330.2" stroke="#000" stroke-width="2.4"/>
<text x="1178.9" y="336.8" font-size="26.5" fill="#000">6.23</text>
<line x1="1162.7" y1="392.2" x2="1170.2" y2="392.2" stroke="#000" stroke-width="2.4"/>
<text x="1178.9" y="398.1" font-size="26.5" fill="#000">3.16</text>
<line x1="1162.7" y1="454.2" x2="1170.2" y2="454.2" stroke="#000" stroke-width="2.4"/>
<text x="1178.9" y="459.5" font-size="26.5" fill="#000">0.1</text>
<text x="1067.6" y="48.6" font-size="26.1" fill="#000" textLength="200.6" lengthAdjust="spacingAndGlyphs">E-Field (10<tspan font-size="17" dy="-10.8">5</tspan><tspan dy="10.8"> V/cm)</tspan></text>
<line x1="36.1" y1="224.2" x2="36.1" y2="466.2" stroke="#000" stroke-width="1.7"/>
<path d="M32.1 461.9 L40.1 461.9 L36.1 476.2Z" fill="#000"/>
<text transform="translate(20.7 365.8) scale(1.05 1) rotate(-90)" font-size="26.2" text-anchor="middle" fill="#000" textLength="79.6" lengthAdjust="spacingAndGlyphs">Y (μm)</text>
<text transform="translate(65.1 365) scale(1.05 1) rotate(-90)" font-size="26.2" text-anchor="middle" fill="#000" textLength="72.6" lengthAdjust="spacingAndGlyphs">0 <tspan dy="2.4">~</tspan><tspan dy="-2.4"> 6.5</tspan></text>
<line x1="611.8" y1="222.3" x2="611.8" y2="464" stroke="#000" stroke-width="1.7"/>
<path d="M607.8 459.7 L615.8 459.7 L611.8 474Z" fill="#000"/>
<text transform="translate(596.4 363.8) scale(1.05 1) rotate(-90)" font-size="26.2" text-anchor="middle" fill="#000" textLength="79.6" lengthAdjust="spacingAndGlyphs">Y (μm)</text>
<text transform="translate(640.8 362.9) scale(1.05 1) rotate(-90)" font-size="26.2" text-anchor="middle" fill="#000" textLength="72.6" lengthAdjust="spacingAndGlyphs">0 <tspan dy="2.4">~</tspan><tspan dy="-2.4"> 6.5</tspan></text>
<line x1="175.3" y1="717" x2="389.1" y2="717" stroke="#000" stroke-width="2.5"/>
<path d="M383.1 712.8 L383.1 721.2 L399.1 717Z" fill="#000"/>
<text x="287.7" y="708.2" font-size="26.2" text-anchor="middle" fill="#000" textLength="72" lengthAdjust="spacingAndGlyphs">0 <tspan dy="2.4">~</tspan><tspan dy="-2.4"> 4.5</tspan></text>
<text x="287.4" y="742.1" font-size="26.2" text-anchor="middle" fill="#000" textLength="79.2" lengthAdjust="spacingAndGlyphs">X (μm)</text>
<line x1="751.5" y1="716.8" x2="966.6" y2="716.8" stroke="#000" stroke-width="2.5"/>
<path d="M960.6 712.6 L960.6 721 L976.6 716.8Z" fill="#000"/>
<text x="864.5" y="708" font-size="26.2" text-anchor="middle" fill="#000" textLength="72" lengthAdjust="spacingAndGlyphs">0 <tspan dy="2.4">~</tspan><tspan dy="-2.4"> 4.5</tspan></text>
<text x="864.2" y="741.9" font-size="26.2" text-anchor="middle" fill="#000" textLength="79.2" lengthAdjust="spacingAndGlyphs">X (μm)</text>
</svg>
</body>
</html>
